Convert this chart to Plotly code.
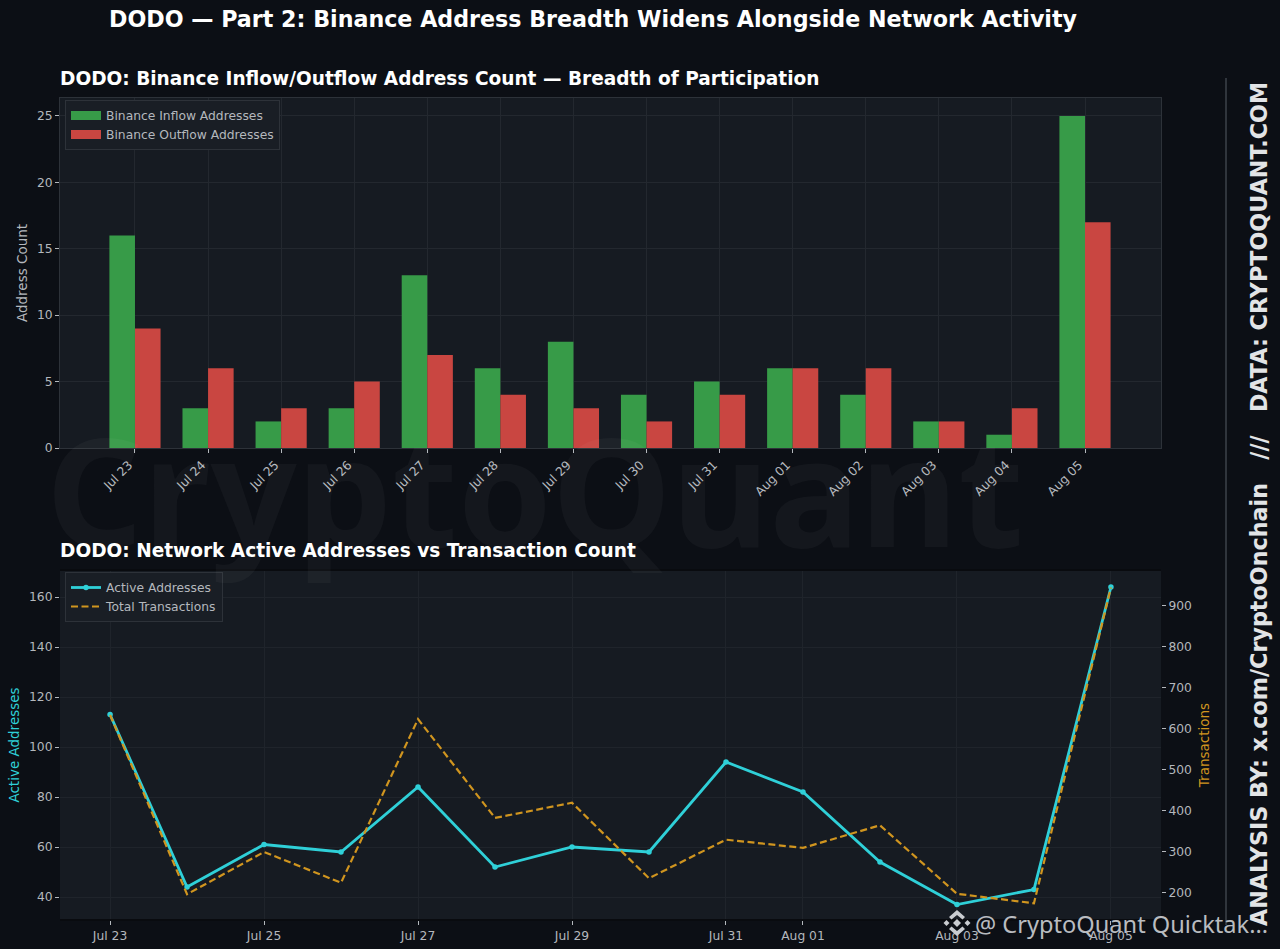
import plotly.graph_objects as go

W, H = 1280, 949

# data
day_labels = ['Jul 23', 'Jul 24', 'Jul 25', 'Jul 26', 'Jul 27', 'Jul 28', 'Jul 29',
              'Jul 30', 'Jul 31', 'Aug 01', 'Aug 02', 'Aug 03', 'Aug 04', 'Aug 05']
inflow = [16, 3, 2, 3, 13, 6, 8, 4, 5, 6, 4, 2, 1, 25]
outflow = [9, 6, 3, 5, 7, 4, 3, 2, 4, 6, 6, 2, 3, 17]
dates = ['2025-07-23', '2025-07-24', '2025-07-25', '2025-07-26', '2025-07-27', '2025-07-28', '2025-07-29',
         '2025-07-30', '2025-07-31', '2025-08-01', '2025-08-02', '2025-08-03', '2025-08-04', '2025-08-05']
active = [113, 44, 61, 58, 84, 52, 60, 58, 94, 82, 54, 37, 43, 164]
transactions = [634, 197, 300, 225, 624, 383, 420, 236, 330, 310, 365, 198, 175, 945]
date_ticks = ['2025-07-23', '2025-07-25', '2025-07-27', '2025-07-29', '2025-07-31',
              '2025-08-01', '2025-08-03', '2025-08-05']
date_tick_labels = ['Jul 23', 'Jul 25', 'Jul 27', 'Jul 29', 'Jul 31', 'Aug 01', 'Aug 03', 'Aug 05']

BG = '#0c0f15'
PANEL = '#161b22'
GRID = '#23282f'
GRID2 = '#1f242b'
SPINE = '#2d3239'
TICK = '#b4b8bd'
GREEN = '#379b48'
RED = '#c94641'
CYAN = '#2fd0d8'
ORANGE = '#d0951f'
FONT = 'DejaVu Sans'


def px(x):
    return x / W


def py(y):
    return 1 - y / H


fig = go.Figure()

fig.add_trace(go.Bar(x=day_labels, y=inflow, name='Binance Inflow Addresses', marker_color=GREEN,
                     marker_line_width=0, xaxis='x', yaxis='y', showlegend=False))
fig.add_trace(go.Bar(x=day_labels, y=outflow, name='Binance Outflow Addresses', marker_color=RED,
                     marker_line_width=0, xaxis='x', yaxis='y', showlegend=False))
# empty line traces only for the wide legend swatches
fig.add_trace(go.Scatter(x=[None], y=[None], name='Binance Inflow Addresses', mode='lines',
                         line=dict(color=GREEN, width=9), xaxis='x', yaxis='y', legend='legend'))
fig.add_trace(go.Scatter(x=[None], y=[None], name='Binance Outflow Addresses', mode='lines',
                         line=dict(color=RED, width=9), xaxis='x', yaxis='y', legend='legend'))

fig.add_trace(go.Scatter(x=dates, y=transactions, name='Total Transactions', mode='lines',
                         line=dict(color=ORANGE, width=2.2, dash='7px,3.5px'),
                         xaxis='x2', yaxis='y3', legend='legend2'))
fig.add_trace(go.Scatter(x=dates, y=active, name='Active Addresses', mode='lines+markers',
                         line=dict(color=CYAN, width=2.8), marker=dict(color=CYAN, size=5.5),
                         xaxis='x2', yaxis='y2', legend='legend2'))

axis_common = dict(showgrid=True, gridcolor=GRID, gridwidth=1, zeroline=False,
                   tickfont=dict(family=FONT, size=12.3, color=TICK),
                   ticks='outside', ticklen=4, tickcolor=TICK, tickwidth=1,
                   showline=True, linecolor=SPINE, linewidth=1, mirror=True)

layout = go.Layout(
    width=W, height=H,
    margin=dict(l=0, r=0, t=0, b=0, autoexpand=False),
    paper_bgcolor=BG, plot_bgcolor=PANEL,
    font=dict(family=FONT, color=TICK),
    barmode='group', bargap=0.3, bargroupgap=0,
    showlegend=True,
    xaxis=dict(axis_common, domain=[px(60), px(1161)], anchor='y', type='category',
               categoryorder='array', categoryarray=day_labels, range=[-1.026, 14.04],
               tickangle=-45, ticklabelshift=-6, automargin=False),
    yaxis=dict(axis_common, domain=[py(448), py(98)], anchor='x', range=[0, 26.35],
               tickvals=[0, 5, 10, 15, 20, 25], automargin=False,
               title=dict(text='Address Count', font=dict(family=FONT, size=13.5, color=TICK), standoff=6)),
    xaxis2=dict(axis_common, domain=[px(60), px(1161)], anchor='y2', type='date',
                range=['2025-07-22 08:24', '2025-08-05 15:36'], gridcolor=GRID2,
                linecolor='#090b0f', linewidth=2,
                tickvals=date_ticks, ticktext=date_tick_labels, automargin=False),
    yaxis2=dict(axis_common, domain=[py(919), py(571)], anchor='x2', range=[31.2, 170.4],
                gridcolor=GRID2, showline=False, mirror=False,
                tickvals=[40, 60, 80, 100, 120, 140, 160], automargin=False,
                title=dict(text='Active Addresses', font=dict(family=FONT, size=13.5, color=CYAN), standoff=6)),
    yaxis3=dict(axis_common, overlaying='y2', side='right', anchor='x2', range=[136.6, 985],
                tickvals=[200, 300, 400, 500, 600, 700, 800, 900], showgrid=False,
                showline=False, automargin=False, mirror=False,
                title=dict(text='Transactions', font=dict(family=FONT, size=13.5, color=ORANGE), standoff=8)),
    legend=dict(x=px(65), y=py(100), xanchor='left', yanchor='top', bgcolor='#191e25',
                bordercolor=SPINE, borderwidth=1, font=dict(family=FONT, size=12.3, color=TICK),
                traceorder='normal', itemwidth=30),
    legend2=dict(x=px(65), y=py(572), xanchor='left', yanchor='top', bgcolor='#191e25',
                 bordercolor=SPINE, borderwidth=1, font=dict(family=FONT, size=12.3, color=TICK),
                 traceorder='reversed', itemwidth=30),
)
fig.update_layout(layout)

annotations = [
    dict(text='<b>CryptoQuant</b>', x=px(535), y=py(488),
         font=dict(size=151, color='rgba(255,255,255,0.035)', family='Noto Sans'),
         xanchor='center', yanchor='middle'),
    dict(text='<b>DODO — Part 2: Binance Address Breadth Widens Alongside Network Activity</b>',
         x=px(593), y=py(19), xanchor='center', yanchor='middle', font=dict(size=22.2, color='white', family=FONT)),
    dict(text='<b>DODO: Binance Inflow/Outflow Address Count — Breadth of Participation</b>',
         x=px(58), y=py(79), xanchor='left', yanchor='middle', font=dict(size=18.55, color='white', family=FONT)),
    dict(text='<b>DODO: Network Active Addresses vs Transaction Count</b>',
         x=px(58), y=py(550), xanchor='left', yanchor='middle', font=dict(size=18.55, color='white', family=FONT)),
    dict(text='<b>ANALYSIS BY: x.com/CryptoOnchain   ///   DATA: CRYPTOQUANT.COM</b>',
         x=px(1259), y=py(504), xanchor='center', yanchor='middle', textangle=-90,
         font=dict(size=22.25, color='#e2e4e6', family=FONT)),
    dict(text='@ CryptoQuant Quicktak...', x=px(973), y=py(924), xanchor='left', yanchor='middle',
         font=dict(size=23.6, color='#b9bcc0', family='Noto Sans')),
]
fig.update_layout(annotations=[dict(a, xref='paper', yref='paper', showarrow=False) for a in annotations])


def poly(points, cx, cy, flip=1):
    parts = [f'{px(cx + a)},{py(cy + flip * b)}' for a, b in points]
    return 'M' + ' L'.join(parts) + ' Z'


# divider next to the vertical credit, and the small exchange logo by the footer
LOGO = '#c9ccd0'
diamond = [(-4, 0), (0, -4), (4, 0), (0, 4)]
small = [(-3, 0), (0, -3), (3, 0), (0, 3)]
chevron = [(-8, -6), (0, -13), (8, -6), (5.5, -3.5), (0, -8), (-5.5, -3.5)]
logo_paths = [poly(diamond, 957, 923), poly(small, 946.5, 923), poly(small, 967.5, 923),
              poly(chevron, 957, 923), poly(chevron, 957, 923, flip=-1)]
shapes = [dict(type='line', x0=px(1226), x1=px(1226), y0=py(78), y1=py(925),
               line=dict(color='#30353c', width=2), xref='paper', yref='paper')]
shapes += [dict(type='path', path=p, fillcolor=LOGO, line=dict(width=0), xref='paper', yref='paper')
           for p in logo_paths]
fig.update_layout(shapes=shapes)

fig.write_html("out.html", config={'displayModeBar': False},
               post_script="document.body.style.margin='0';document.body.style.background='#0c0f15';")
